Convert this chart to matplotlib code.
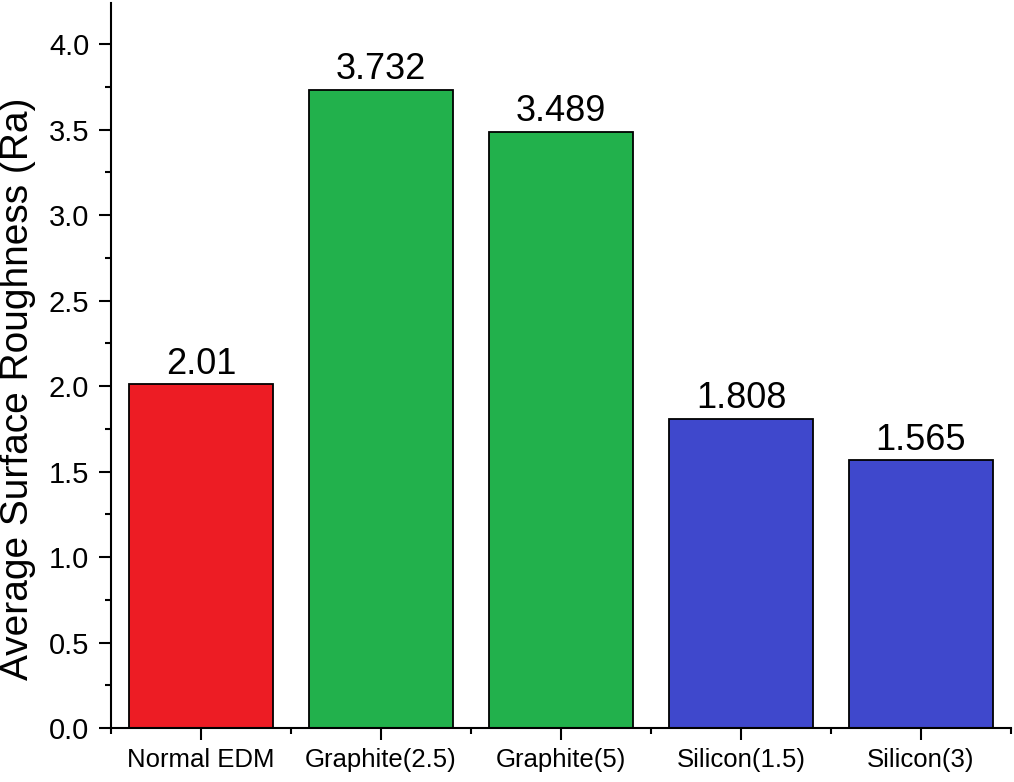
import matplotlib.pyplot as plt
import numpy as np
from matplotlib.ticker import MultipleLocator, FixedLocator

# data
categories = ["Normal EDM", "Graphite(2.5)", "Graphite(5)", "Silicon(1.5)", "Silicon(3)"]
roughness = [2.01, 3.732, 3.489, 1.808, 1.565]
value_labels = ["2.01", "3.732", "3.489", "1.808", "1.565"]
bar_colors = ["#ED1C24", "#22B14C", "#22B14C", "#3F48CC", "#3F48CC"]

plt.rcParams['font.family'] = ['Liberation Sans', 'DejaVu Sans']

fig = plt.figure(figsize=(10.14, 7.82), dpi=100)
ax = fig.add_axes([0.1095, 0.069, 0.8875, 0.927])

x = np.arange(len(categories))
bars = ax.bar(x, roughness, width=0.8, color=bar_colors, edgecolor='black', linewidth=1.3)

for b, lab in zip(bars, value_labels):
    ax.annotate(lab, (b.get_x() + b.get_width() / 2, b.get_height()),
                xytext=(0, 2), textcoords='offset points',
                ha='center', va='bottom', fontsize=26)

ax.set_xlim(-0.5, len(categories) - 0.5)
ax.set_ylim(0, 4.24)
ax.set_xticks(x)
ax.set_xticklabels(categories, fontsize=18.5)
ax.xaxis.set_minor_locator(FixedLocator(np.arange(-0.5, len(categories), 1.0)))
ax.yaxis.set_major_locator(MultipleLocator(0.5))
ax.yaxis.set_minor_locator(MultipleLocator(0.25))
ax.yaxis.set_major_formatter(plt.FormatStrFormatter('%.1f'))
for t in ax.get_yticklabels():
    t.set_fontsize(21)

ax.tick_params(which='major', direction='out', length=8.6, width=1.5, pad=6)
ax.tick_params(which='minor', direction='out', length=4.3, width=1.5)
ax.tick_params(axis='y', which='major', pad=7)

ax.set_ylabel("Average Surface Roughness (Ra)", fontsize=28)
ax.yaxis.set_label_coords(-0.083, 0.468)

for s in ['top', 'right']:
    ax.spines[s].set_visible(False)
for s in ['left', 'bottom']:
    ax.spines[s].set_linewidth(1.5)

fig.savefig("out.png", dpi=100)
